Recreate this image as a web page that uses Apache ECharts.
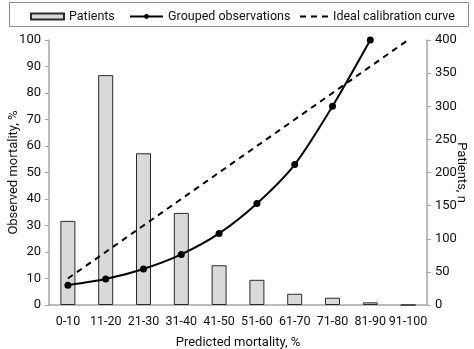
<!DOCTYPE html>
<html>
<head>
<meta charset="utf-8">
<script src="https://cdn.jsdelivr.net/npm/echarts@6/dist/echarts.min.js"></script>
<style>html,body{margin:0;padding:0;background:#fff}#c{width:474px;height:349px}</style>
</head>
<body>
<div id="c"></div>
<script>
const categories = ['0-10','11-20','21-30','31-40','41-50','51-60','61-70','71-80','81-90','91-100'];
const patients = [127, 347, 229, 139, 60, 38, 17, 11, 4, 0];
const grouped = [7.5, 9.8, 13.6, 19.1, 27, 38.3, 53, 75, 100, null];
const ideal = [10, 20, 30, 40, 50, 60, 70, 80, 90, 100];
const leftTicks = {min: 0, max: 100, interval: 10};
const rightTicks = {min: 0, max: 400, interval: 50};

const FONT = "Roboto, 'Liberation Sans', sans-serif";
const FS = 13;
const LFS = 12.5;
const axisGrey = '#a6a6a6';
const legendBase = {
  top: 5, itemHeight: 6, orient: 'horizontal',
  textStyle: {fontFamily: FONT, fontSize: LFS, color: '#111'}
};
const chart = echarts.init(document.getElementById('c'), null, {renderer: 'canvas'});
chart.setOption({
  animation: false,
  textStyle: {fontFamily: FONT},
  graphic: [{
    type: 'rect', left: 7, top: 0,
    shape: {x: 0, y: 0, width: 459, height: 24},
    style: {fill: 'none', stroke: '#8c8c8c', lineWidth: 1}
  }],
  legend: [
    Object.assign({}, legendBase, {left: 25, itemWidth: 33, data: [{name: 'Patients', icon: 'rect'}]}),
    Object.assign({}, legendBase, {left: 124, itemWidth: 33, data: [{name: 'Grouped observations'}]}),
    Object.assign({}, legendBase, {left: 294, itemWidth: 28, data: [{name: 'Ideal calibration curve', itemStyle: {color: 'rgba(0,0,0,0)', borderWidth: 0}}]})
  ],
  grid: {left: 49, right: 47, top: 40, bottom: 44, outerBoundsMode: 'none', containLabel: false},
  xAxis: {
    type: 'category', data: categories,
    name: 'Predicted mortality, %', nameLocation: 'middle', nameGap: 31, nameMoveOverlap: false,
    nameTextStyle: {fontFamily: FONT, fontSize: FS, color: '#111'},
    axisLine: {lineStyle: {color: axisGrey, width: 1.5}},
    axisTick: {show: false},
    axisLabel: {fontFamily: FONT, fontSize: 12.5, color: '#111', margin: 10, interval: 0}
  },
  yAxis: [{
    type: 'value', min: leftTicks.min, max: leftTicks.max, interval: leftTicks.interval,
    name: 'Observed mortality, %', nameLocation: 'middle', nameGap: 29, nameMoveOverlap: false,
    nameTextStyle: {fontFamily: FONT, fontSize: FS, color: '#111'},
    axisLine: {show: true, lineStyle: {color: axisGrey, width: 1.5}},
    axisTick: {show: true, length: 4, lineStyle: {color: axisGrey}},
    splitLine: {show: false},
    axisLabel: {fontFamily: FONT, fontSize: FS, color: '#111', margin: 8}
  }, {
    type: 'value', position: 'right', min: rightTicks.min, max: rightTicks.max, interval: rightTicks.interval,
    name: 'Patients, n', nameLocation: 'middle', nameGap: 28, nameRotate: -90, nameMoveOverlap: false,
    nameTextStyle: {fontFamily: FONT, fontSize: FS, color: '#111'},
    axisLine: {show: true, lineStyle: {color: axisGrey, width: 1.5}},
    axisTick: {show: true, length: 4, lineStyle: {color: axisGrey}},
    splitLine: {show: false},
    axisLabel: {fontFamily: FONT, fontSize: FS, color: '#111', margin: 8}
  }],
  series: [{
    name: 'Patients', type: 'bar', yAxisIndex: 1, data: patients,
    barWidth: 15,
    itemStyle: {color: '#d9d9d9', borderColor: '#2a2a2a', borderWidth: 1}
  }, {
    name: 'Grouped observations', type: 'line', yAxisIndex: 0, data: grouped,
    smooth: 0.25, symbol: 'circle', symbolSize: 7,
    lineStyle: {color: '#000', width: 2},
    itemStyle: {color: '#000'}
  }, {
    name: 'Ideal calibration curve', type: 'line', yAxisIndex: 0, data: ideal,
    symbol: 'none',
    lineStyle: {color: '#000', width: 2, type: [6, 5]},
    itemStyle: {color: '#000'}
  }]
});
</script>
</body>
</html>
